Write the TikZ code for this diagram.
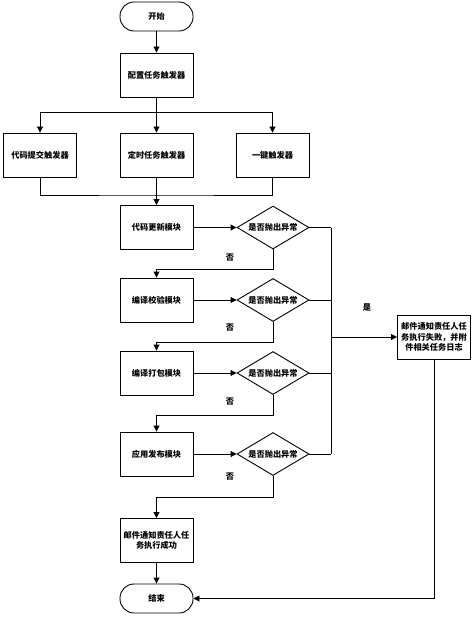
\documentclass[tikz,border=0pt]{standalone}
\usepackage{fontspec}
\setmainfont{Noto Sans CJK SC}
\usetikzlibrary{shapes.geometric,arrows.meta}

\begin{document}
\begin{tikzpicture}[x=1pt,y=-1pt,
        line width=0.9pt,
        every node/.style={font=\fontsize{8.2}{10.5}\selectfont\bfseries, align=center},
        box/.style={draw, minimum width=73pt, minimum height=44pt, inner sep=1pt},
        term/.style={draw, rounded corners=14pt, minimum width=73pt, minimum height=29pt},
        decision/.style={draw, diamond, aspect=1.67, minimum width=72pt, minimum height=43pt, inner sep=0pt},
        arr/.style={-{Triangle[length=6pt,width=6pt]}}]
        \useasboundingbox (0,0) rectangle (474,620);

        \node[term] (start) at (156.5,16.5) {开始};
        \node[box] (cfg) at (156.5,75) {配置任务触发器};

        \node[box] (trig1) at (40,155) {代码提交触发器};
        \node[box] (trig2) at (156.5,155) {定时任务触发器};
        \node[box] (trig3) at (272.5,155) {一键触发器};

        \coordinate (split) at (156.5,112);
        \coordinate (merge) at (156.5,195);

        \draw[arr] (start) -- (cfg);
        \draw (cfg) -- (split);
        \draw[arr] (split) -| (trig1);
        \draw[arr] (split) -- (trig2);
        \draw[arr] (split) -| (trig3);
        \draw (trig1.south) |- (merge) -| (trig3.south);

        % modules and checks
        \foreach \i/\y/\txt/\ny in {1/227.5/代码更新模块/258, 2/300/编译校验模块/328,
                                    3/373/编译打包模块/402, 4/454/应用发布模块/477} {
            \node[box] (mod\i) at (156.5,\y) {\txt};
            \node[decision] (dec\i) at (273,\y) {是否抛出异常};
            \node (no\i) at (230,\ny) {否};
            \draw[arr] (mod\i) -- (dec\i);
        }
        \draw[arr] (trig2.south) -- (mod1.north);

        \node[box] (fail) at (434,337) {邮件通知责任人任\\务执行失败，并附\\件相关任务日志};
        \node (yes) at (367,308) {是};
        \node[box] (succ) at (156.5,540.5) {邮件通知责任人任\\务执行成功};
        \node[term] (end) at (156.5,598.5) {结束};

        \coordinate (busTop) at (331,227.5);
        \coordinate (busBot) at (331,454);
        \draw (busTop) -- (busBot);
        \foreach \i in {1,2,3,4} {
            \draw (dec\i.east) -- (dec\i.east -| busTop);
        }
        \draw[arr] (busTop |- fail.west) -- (fail.west);

        \foreach \i/\j in {1/2, 2/3, 3/4} {
            \draw[arr] (dec\i.south) -- ++(0,20) -| (mod\j.north);
        }
        \draw[arr] (dec4.south) -- ++(0,21) -| (succ.north);
        \draw[arr] (succ) -- (end);
        \draw[arr] (fail.south) |- (end.east);
\end{tikzpicture}
\end{document}
